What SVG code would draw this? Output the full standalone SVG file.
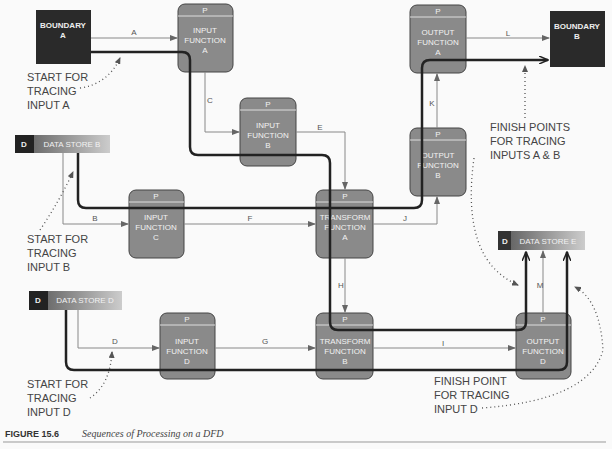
<svg xmlns="http://www.w3.org/2000/svg" width="612" height="449" viewBox="0 0 612 449">
<defs>
<style>
.proc{fill:#8a8a8a;stroke:#444;stroke-width:1}
.hd{stroke:#ddd;stroke-width:1}
.pt{font-family:"Liberation Sans",Arial,sans-serif;font-size:8px;fill:#f2f2f2;text-anchor:middle}
.bt{font-family:"Liberation Sans",Arial,sans-serif;font-size:8px;fill:#eee;text-anchor:middle;font-weight:bold}
.lb{font-family:"Liberation Sans",Arial,sans-serif;font-size:8px;fill:#555;text-anchor:middle}
.an{font-family:"Liberation Sans",Arial,sans-serif;font-size:11px;fill:#444}
.thin{fill:none;stroke:#888;stroke-width:1;marker-end:url(#a)}
.thick{fill:none;stroke:#222;stroke-width:2.5}
.dot{fill:none;stroke:#555;stroke-width:1.3;stroke-dasharray:1 3;marker-end:url(#d)}
</style>
<marker id="a" markerWidth="8" markerHeight="6" refX="7" refY="3" orient="auto" markerUnits="userSpaceOnUse"><path d="M0,0L8,3L0,6z" fill="#666"/></marker>
<marker id="t" markerWidth="10" markerHeight="8" refX="9" refY="4" orient="auto" markerUnits="userSpaceOnUse"><path d="M0,0L9,4L0,8" fill="none" stroke="#222" stroke-width="1.5"/></marker>
<marker id="d" markerWidth="7" markerHeight="6" refX="6" refY="3" orient="auto" markerUnits="userSpaceOnUse"><path d="M0,0L7,3L0,6z" fill="#555"/></marker>
<linearGradient id="ds" x1="0" x2="1"><stop offset="0" stop-color="#555"/><stop offset="1" stop-color="#ccc"/></linearGradient>
</defs>
<rect width="612" height="449" fill="#fafafa"/>

<g id="boundaryA"><rect x="36" y="10" width="55" height="54" fill="#2a2a2a"/><text class="bt" x="63" y="28">BOUNDARY</text><text class="bt" x="63" y="38">A</text></g>
<g id="boundaryB"><rect x="550" y="11" width="55" height="56" fill="#2a2a2a"/><text class="bt" x="577" y="29">BOUNDARY</text><text class="bt" x="577" y="39">B</text></g>

<g id="dsB"><rect x="15" y="135" width="95" height="18" fill="url(#ds)"/><rect x="15" y="135" width="19" height="18" fill="#222"/><text class="bt" x="24" y="147">D</text><text class="pt" x="72" y="147">DATA STORE B</text></g>
<g id="dsD"><rect x="29" y="291" width="93" height="19" fill="url(#ds)"/><rect x="29" y="291" width="19" height="19" fill="#222"/><text class="bt" x="38" y="303">D</text><text class="pt" x="85" y="303">DATA STORE D</text></g>
<g id="dsE"><rect x="498" y="231" width="87" height="19" fill="url(#ds)"/><rect x="498" y="231" width="13" height="19" fill="#333"/><text class="bt" x="505" y="244">D</text><text class="pt" x="548" y="244">DATA STORE E</text></g>

<g id="inA"><rect class="proc" x="178" y="4" width="55" height="68" rx="7"/><line class="hd" x1="178" y1="16" x2="233" y2="16"/><text class="pt" x="205" y="13">P</text><text class="pt" x="205" y="33">INPUT</text><text class="pt" x="205" y="43">FUNCTION</text><text class="pt" x="205" y="53">A</text></g>
<g id="inB"><rect class="proc" x="240" y="98" width="56" height="68" rx="7"/><line class="hd" x1="240" y1="110" x2="296" y2="110"/><text class="pt" x="268" y="107">P</text><text class="pt" x="268" y="128">INPUT</text><text class="pt" x="268" y="138">FUNCTION</text><text class="pt" x="268" y="148">B</text></g>
<g id="outA"><rect class="proc" x="410" y="5" width="56" height="68" rx="7"/><line class="hd" x1="410" y1="17" x2="466" y2="17"/><text class="pt" x="438" y="14">P</text><text class="pt" x="438" y="35">OUTPUT</text><text class="pt" x="438" y="45">FUNCTION</text><text class="pt" x="438" y="55">A</text></g>
<g id="outB"><rect class="proc" x="410" y="128" width="56" height="68" rx="7"/><line class="hd" x1="410" y1="140" x2="466" y2="140"/><text class="pt" x="438" y="137">P</text><text class="pt" x="438" y="158">OUTPUT</text><text class="pt" x="438" y="168">FUNCTION</text><text class="pt" x="438" y="178">B</text></g>
<g id="inC"><rect class="proc" x="129" y="190" width="55" height="68" rx="7"/><line class="hd" x1="129" y1="202" x2="184" y2="202"/><text class="pt" x="156" y="199">P</text><text class="pt" x="156" y="220">INPUT</text><text class="pt" x="156" y="230">FUNCTION</text><text class="pt" x="156" y="240">C</text></g>
<g id="trA"><rect class="proc" x="316" y="190" width="57" height="68" rx="7"/><line class="hd" x1="316" y1="202" x2="373" y2="202"/><text class="pt" x="345" y="199">P</text><text class="pt" x="345" y="220">TRANSFORM</text><text class="pt" x="345" y="230">FUNCTION</text><text class="pt" x="345" y="240">A</text></g>
<g id="inD"><rect class="proc" x="160" y="313" width="55" height="66" rx="7"/><line class="hd" x1="160" y1="325" x2="215" y2="325"/><text class="pt" x="187" y="322">P</text><text class="pt" x="187" y="344">INPUT</text><text class="pt" x="187" y="354">FUNCTION</text><text class="pt" x="187" y="364">D</text></g>
<g id="trB"><rect class="proc" x="316" y="313" width="57" height="66" rx="7"/><line class="hd" x1="316" y1="325" x2="373" y2="325"/><text class="pt" x="345" y="322">P</text><text class="pt" x="345" y="344">TRANSFORM</text><text class="pt" x="345" y="354">FUNCTION</text><text class="pt" x="345" y="364">B</text></g>
<g id="outD"><rect class="proc" x="516" y="313" width="55" height="66" rx="7"/><line class="hd" x1="516" y1="325" x2="571" y2="325"/><text class="pt" x="543" y="322">P</text><text class="pt" x="543" y="344">OUTPUT</text><text class="pt" x="543" y="354">FUNCTION</text><text class="pt" x="543" y="364">D</text></g>

<g id="connectors">
<path class="thin" d="M91,38H177"/>
<path class="thin" d="M205,72V132H239"/>
<path class="thin" d="M296,132H345V189"/>
<path class="thin" d="M63,153V224H128"/>
<path class="thin" d="M184,224H315"/>
<path class="thin" d="M373,224H437V197"/>
<path class="thin" d="M437,128V74"/>
<path class="thin" d="M466,38H549"/>
<path class="thin" d="M345,258V312"/>
<path class="thin" d="M78,310V348H159"/>
<path class="thin" d="M215,348H315"/>
<path class="thin" d="M373,348H515"/>
<path class="thin" d="M543,313V251"/>
<path class="thick" d="M91,52H182Q190,52 190,60V147Q190,155 198,155H322Q330,155 330,163V322Q330,330 338,330H518Q526,330 526,322V252" marker-end="url(#t)"/>
<path class="thick" d="M78,153V200Q78,208 86,208H414Q422,208 422,200V68Q422,60 430,60H548" marker-end="url(#t)"/>
<path class="thick" d="M66,310V362Q66,370 74,370H559Q567,370 567,362V252" marker-end="url(#t)"/>
<g class="lb">
<text x="134" y="35">A</text><text x="210" y="103">C</text><text x="320" y="130">E</text>
<text x="95" y="221">B</text><text x="250" y="221">F</text><text x="405" y="221">J</text>
<text x="432" y="106">K</text><text x="508" y="36">L</text><text x="341" y="288">H</text>
<text x="115" y="344">D</text><text x="265" y="344">G</text><text x="443" y="346">I</text>
<text x="540" y="288">M</text>
</g>
<path class="dot" d="M80,88Q108,84 120,58"/>
<path class="dot" d="M40,230Q60,200 73,172"/>
<path class="dot" d="M90,398Q110,385 112,352"/>
<path class="dot" d="M525,118V66"/>
<path class="dot" d="M474,158Q460,260 518,285"/>
<path class="dot" d="M482,408Q590,400 603,350Q600,300 575,287"/>
</g>

<g class="an">
<text x="27" y="81">START FOR</text><text x="27" y="95">TRACING</text><text x="27" y="109">INPUT A</text>
<text x="27" y="243">START FOR</text><text x="27" y="257">TRACING</text><text x="27" y="271">INPUT B</text>
<text x="27" y="388">START FOR</text><text x="27" y="402">TRACING</text><text x="27" y="416">INPUT D</text>
<text x="490" y="131">FINISH POINTS</text><text x="490" y="145">FOR TRACING</text><text x="490" y="159">INPUTS A &amp; B</text>
<text x="434" y="385">FINISH POINT</text><text x="434" y="399">FOR TRACING</text><text x="434" y="413">INPUT D</text>
</g>
<text x="5" y="437" font-family="Liberation Sans,Arial,sans-serif" font-size="9" font-weight="bold" fill="#333">FIGURE 15.6</text>
<text x="82" y="437" font-family="Liberation Serif,Times New Roman,serif" font-size="10" font-style="italic" fill="#444">Sequences of Processing on a DFD</text>
<line x1="3" y1="442" x2="606" y2="442" stroke="#999" stroke-width="1"/>
</svg>
